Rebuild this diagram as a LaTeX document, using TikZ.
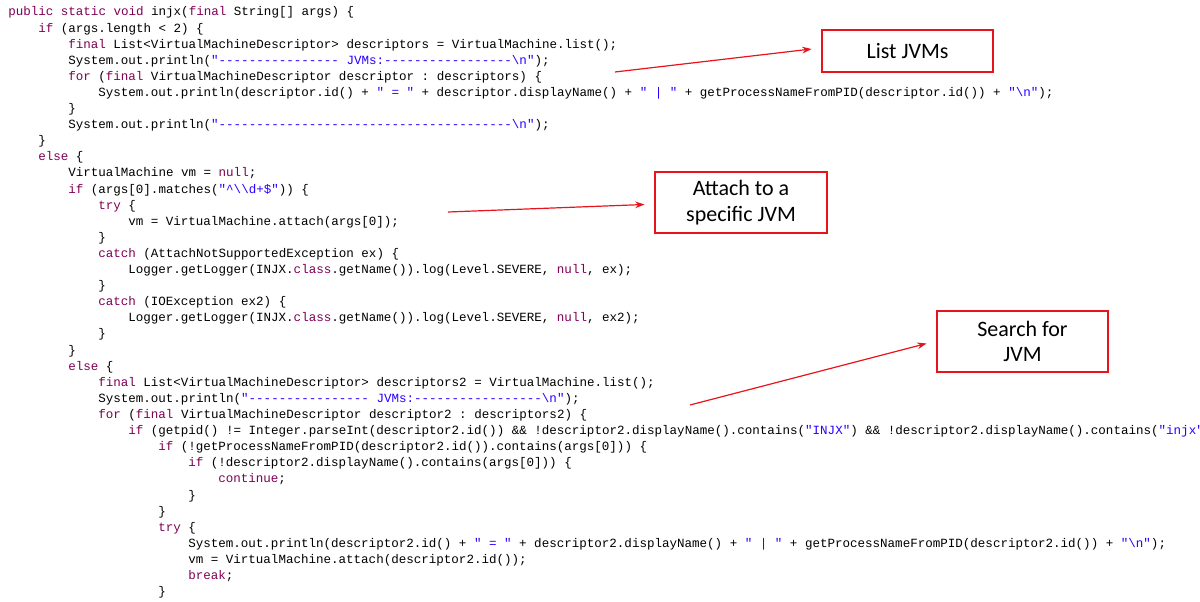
\documentclass[tikz,border=0pt]{standalone}
\usepackage{fontspec}
\setmonofont{Liberation Mono}
\newfontfamily\boxfont{Carlito}
\usetikzlibrary{arrows.meta,calc}
\definecolor{kwc}{HTML}{7F0055}
\definecolor{strc}{HTML}{2A00FF}
\definecolor{redc}{HTML}{E8141B}
\newcommand\kw[1]{\textcolor{kwc}{#1}}
\newcommand\str[1]{\textcolor{strc}{#1}}
\newcommand\bs{\textbackslash}
\tikzset{
  code/.style={anchor=base west, inner sep=0pt, font=\ttfamily\fontsize{9.4pt}{11pt}\selectfont},
  callout/.style={draw=redc, line width=2.2pt, fill=white, align=center, font=\boxfont\fontsize{16.5pt}{19pt}\selectfont, inner sep=0pt},
  pointer/.style={draw=redc, line width=0.9pt, -{Stealth[length=7pt,width=5pt]}}
}
\begin{document}
\begin{tikzpicture}[x=0.75pt,y=-0.75pt]
\useasboundingbox (0,0) rectangle (1200,602);
\fill[white] (0,0) rectangle (1200,602);
\begin{scope}
\clip (0,0) rectangle (1200,602);
\newcommand\cl[4]{\node[code] (#1) at ({8+#2*30},{16+(#3-1)*16.1}) {#4};}
\cl{l1}{0}{1}{\kw{public static void} injx(\kw{final} String[] args) \{}
\cl{l2}{1}{2}{\kw{if} (args.length < 2) \{}
\cl{l3}{2}{3}{\kw{final} List<VirtualMachineDescriptor> descriptors = VirtualMachine.list();}
\cl{l4}{2}{4}{System.out.println(\str{"---------------- JVMs:-----------------\bs n"});}
\cl{l5}{2}{5}{\kw{for} (\kw{final} VirtualMachineDescriptor descriptor : descriptors) \{}
\cl{l6}{3}{6}{System.out.println(descriptor.id() + \str{" = "} + descriptor.displayName() + \str{" | "} + getProcessNameFromPID(descriptor.id()) + \str{"\bs n"});}
\cl{l7}{2}{7}{\}}
\cl{l8}{2}{8}{System.out.println(\str{"---------------------------------------\bs n"});}
\cl{l9}{1}{9}{\}}
\cl{l10}{1}{10}{\kw{else} \{}
\cl{l11}{2}{11}{VirtualMachine vm = \kw{null};}
\cl{l12}{2}{12}{\kw{if} (args[0].matches(\str{"\textasciicircum\bs\bs d+\$"})) \{}
\cl{l13}{3}{13}{\kw{try} \{}
\cl{l14}{4}{14}{vm = VirtualMachine.attach(args[0]);}
\cl{l15}{3}{15}{\}}
\cl{l16}{3}{16}{\kw{catch} (AttachNotSupportedException ex) \{}
\cl{l17}{4}{17}{Logger.getLogger(INJX.\kw{class}.getName()).log(Level.SEVERE, \kw{null}, ex);}
\cl{l18}{3}{18}{\}}
\cl{l19}{3}{19}{\kw{catch} (IOException ex2) \{}
\cl{l20}{4}{20}{Logger.getLogger(INJX.\kw{class}.getName()).log(Level.SEVERE, \kw{null}, ex2);}
\cl{l21}{3}{21}{\}}
\cl{l22}{2}{22}{\}}
\cl{l23}{2}{23}{\kw{else} \{}
\cl{l24}{3}{24}{\kw{final} List<VirtualMachineDescriptor> descriptors2 = VirtualMachine.list();}
\cl{l25}{3}{25}{System.out.println(\str{"---------------- JVMs:-----------------\bs n"});}
\cl{l26}{3}{26}{\kw{for} (\kw{final} VirtualMachineDescriptor descriptor2 : descriptors2) \{}
\cl{l27}{4}{27}{\kw{if} (getpid() != Integer.parseInt(descriptor2.id()) \&\& !descriptor2.displayName().contains(\str{"INJX"}) \&\& !descriptor2.displayName().contains(\str{"injx"}}
\cl{l28}{5}{28}{\kw{if} (!getProcessNameFromPID(descriptor2.id()).contains(args[0])) \{}
\cl{l29}{6}{29}{\kw{if} (!descriptor2.displayName().contains(args[0])) \{}
\cl{l30}{7}{30}{\kw{continue};}
\cl{l31}{6}{31}{\}}
\cl{l32}{5}{32}{\}}
\cl{l33}{5}{33}{\kw{try} \{}
\cl{l34}{6}{34}{System.out.println(descriptor2.id() + \str{" = "} + descriptor2.displayName() + \str{" | "} + getProcessNameFromPID(descriptor2.id()) + \str{"\bs n"});}
\cl{l35}{6}{35}{vm = VirtualMachine.attach(descriptor2.id());}
\cl{l36}{6}{36}{\kw{break};}
\cl{l37}{5}{37}{\}}
\end{scope}
\node[callout, minimum width=171*0.75pt, minimum height=42*0.75pt] (b1) at (907.5,51) {List JVMs};
\node[callout, minimum width=172*0.75pt, minimum height=61*0.75pt] (b2) at (741,202.5) {Attach to a\\specific JVM};
\node[callout, minimum width=171*0.75pt, minimum height=61*0.75pt] (b3) at (1022.5,341.5) {Search for\\JVM};
\coordinate (s1) at (615,72);
\coordinate (s2) at (448,212);
\coordinate (s3) at (690,405);
\draw[pointer] (s1) -- ($(b1.west)+(-9,-2)$);
\draw[pointer] (s2) -- ($(b2.west)+(-9,2)$);
\draw[pointer] (s3) -- ($(b3.west)+(-9,2)$);
\end{tikzpicture}
\end{document}
